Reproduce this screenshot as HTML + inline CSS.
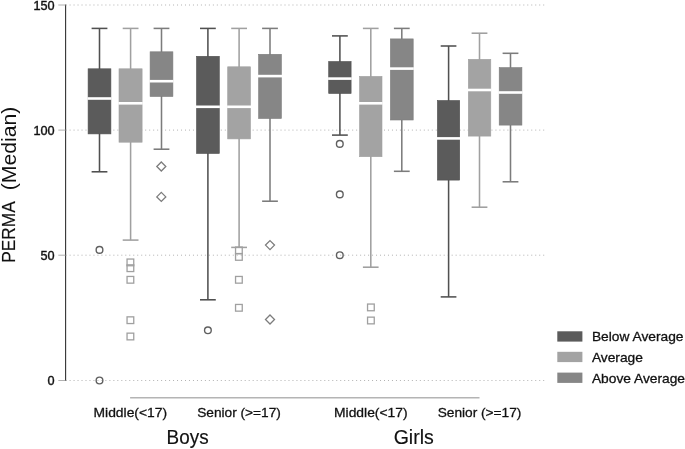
<!DOCTYPE html>
<html><head><meta charset="utf-8"><title>PERMA (Median) box plot</title>
<style>
html,body{margin:0;padding:0;background:#fff;}
body{width:685px;height:449px;overflow:hidden;}
svg{display:block;}
text{font-family:"Liberation Sans",Arial,Helvetica,sans-serif;fill:#111;stroke:#111;stroke-width:0.3px;}
</style></head><body>
<svg width="685" height="449" viewBox="0 0 685 449">
<rect width="685" height="449" fill="#fff"/>

<line x1="66" y1="5.0" x2="545.5" y2="5.0" stroke="#b2b2b2" stroke-width="1" stroke-dasharray="1 2.98" stroke-dashoffset="0.4"/>
<line x1="66" y1="130.1" x2="545.5" y2="130.1" stroke="#b2b2b2" stroke-width="1" stroke-dasharray="1 2.98" stroke-dashoffset="0.4"/>
<line x1="66" y1="255.2" x2="545.5" y2="255.2" stroke="#b2b2b2" stroke-width="1" stroke-dasharray="1 2.98" stroke-dashoffset="0.4"/>
<line x1="66" y1="380.5" x2="545.5" y2="380.5" stroke="#b2b2b2" stroke-width="1" stroke-dasharray="1 2.98" stroke-dashoffset="0.4"/>
<line x1="65.6" y1="4.5" x2="65.6" y2="381" stroke="#333" stroke-width="1.1"/>
<line x1="58.3" y1="5.0" x2="65.5" y2="5.0" stroke="#b0b0b0" stroke-width="1"/>
<line x1="58.3" y1="130.1" x2="65.5" y2="130.1" stroke="#b0b0b0" stroke-width="1"/>
<line x1="58.3" y1="255.2" x2="65.5" y2="255.2" stroke="#b0b0b0" stroke-width="1"/>
<line x1="58.3" y1="380.5" x2="65.5" y2="380.5" stroke="#b0b0b0" stroke-width="1"/>
<text x="54.6" y="9.85" font-size="12.7" text-anchor="end" style="stroke-width:0.4px">150</text>
<text x="54.6" y="134.95" font-size="12.7" text-anchor="end" style="stroke-width:0.4px">100</text>
<text x="54.6" y="260.05" font-size="12.7" text-anchor="end" style="stroke-width:0.4px">50</text>
<text x="54.6" y="385.35" font-size="12.7" text-anchor="end" style="stroke-width:0.4px">0</text>
<line x1="130.1" y1="397.85" x2="479.5" y2="397.85" stroke="#b4b4b4" stroke-width="1.5"/>
<line x1="99.5" y1="28.4" x2="99.5" y2="171.8" stroke="#505050" stroke-width="1.55"/>
<line x1="91.6" y1="28.4" x2="107.4" y2="28.4" stroke="#505050" stroke-width="1.55"/>
<line x1="91.6" y1="171.8" x2="107.4" y2="171.8" stroke="#505050" stroke-width="1.55"/>
<rect x="88.1" y="68.8" width="22.8" height="65.1" fill="#5b5b5b" stroke="#505050" stroke-width="0.6"/>
<line x1="87.5" y1="98.5" x2="111.5" y2="98.5" stroke="#fff" stroke-width="2.6"/>
<line x1="130.6" y1="28.4" x2="130.6" y2="240.1" stroke="#a0a0a0" stroke-width="1.55"/>
<line x1="122.7" y1="28.4" x2="138.5" y2="28.4" stroke="#a0a0a0" stroke-width="1.55"/>
<line x1="122.7" y1="240.1" x2="138.5" y2="240.1" stroke="#a0a0a0" stroke-width="1.55"/>
<rect x="119.0" y="68.8" width="23.1" height="73.4" fill="#a3a3a3" stroke="#a0a0a0" stroke-width="0.6"/>
<line x1="118.4" y1="103.3" x2="142.7" y2="103.3" stroke="#fff" stroke-width="2.6"/>
<line x1="161.5" y1="28.4" x2="161.5" y2="149.2" stroke="#7c7c7c" stroke-width="1.55"/>
<line x1="153.6" y1="28.4" x2="169.4" y2="28.4" stroke="#7c7c7c" stroke-width="1.55"/>
<line x1="153.6" y1="149.2" x2="169.4" y2="149.2" stroke="#7c7c7c" stroke-width="1.55"/>
<rect x="150.1" y="51.8" width="22.8" height="44.7" fill="#868686" stroke="#7c7c7c" stroke-width="0.6"/>
<line x1="149.5" y1="81.2" x2="173.5" y2="81.2" stroke="#fff" stroke-width="2.6"/>
<line x1="207.9" y1="28.4" x2="207.9" y2="299.8" stroke="#505050" stroke-width="1.55"/>
<line x1="200.0" y1="28.4" x2="215.8" y2="28.4" stroke="#505050" stroke-width="1.55"/>
<line x1="200.0" y1="299.8" x2="215.8" y2="299.8" stroke="#505050" stroke-width="1.55"/>
<rect x="196.5" y="56.3" width="22.8" height="97.2" fill="#5b5b5b" stroke="#505050" stroke-width="0.6"/>
<line x1="195.9" y1="106.8" x2="219.9" y2="106.8" stroke="#fff" stroke-width="2.6"/>
<line x1="239.1" y1="28.4" x2="239.1" y2="247.4" stroke="#a0a0a0" stroke-width="1.55"/>
<line x1="231.2" y1="28.4" x2="247.0" y2="28.4" stroke="#a0a0a0" stroke-width="1.55"/>
<line x1="231.2" y1="247.4" x2="247.0" y2="247.4" stroke="#a0a0a0" stroke-width="1.55"/>
<rect x="227.7" y="66.8" width="22.8" height="72.1" fill="#a3a3a3" stroke="#a0a0a0" stroke-width="0.6"/>
<line x1="227.1" y1="106.8" x2="251.1" y2="106.8" stroke="#fff" stroke-width="2.6"/>
<line x1="270.0" y1="28.4" x2="270.0" y2="201.2" stroke="#7c7c7c" stroke-width="1.55"/>
<line x1="262.1" y1="28.4" x2="277.9" y2="28.4" stroke="#7c7c7c" stroke-width="1.55"/>
<line x1="262.1" y1="201.2" x2="277.9" y2="201.2" stroke="#7c7c7c" stroke-width="1.55"/>
<rect x="258.6" y="54.3" width="22.8" height="64.2" fill="#868686" stroke="#7c7c7c" stroke-width="0.6"/>
<line x1="258.0" y1="76.1" x2="282.0" y2="76.1" stroke="#fff" stroke-width="2.6"/>
<line x1="339.9" y1="35.9" x2="339.9" y2="135.1" stroke="#505050" stroke-width="1.55"/>
<line x1="332.0" y1="35.9" x2="347.8" y2="35.9" stroke="#505050" stroke-width="1.55"/>
<line x1="332.0" y1="135.1" x2="347.8" y2="135.1" stroke="#505050" stroke-width="1.55"/>
<rect x="328.7" y="61.5" width="22.4" height="32.0" fill="#5b5b5b" stroke="#505050" stroke-width="0.6"/>
<line x1="328.1" y1="78.6" x2="351.7" y2="78.6" stroke="#fff" stroke-width="2.6"/>
<line x1="370.8" y1="28.4" x2="370.8" y2="267.2" stroke="#a0a0a0" stroke-width="1.55"/>
<line x1="362.9" y1="28.4" x2="378.6" y2="28.4" stroke="#a0a0a0" stroke-width="1.55"/>
<line x1="362.9" y1="267.2" x2="378.6" y2="267.2" stroke="#a0a0a0" stroke-width="1.55"/>
<rect x="359.5" y="76.4" width="22.5" height="80.3" fill="#a3a3a3" stroke="#a0a0a0" stroke-width="0.6"/>
<line x1="358.9" y1="103.3" x2="382.6" y2="103.3" stroke="#fff" stroke-width="2.6"/>
<line x1="401.8" y1="28.4" x2="401.8" y2="171.3" stroke="#7c7c7c" stroke-width="1.55"/>
<line x1="393.9" y1="28.4" x2="409.7" y2="28.4" stroke="#7c7c7c" stroke-width="1.55"/>
<line x1="393.9" y1="171.3" x2="409.7" y2="171.3" stroke="#7c7c7c" stroke-width="1.55"/>
<rect x="390.4" y="38.9" width="22.8" height="81.1" fill="#868686" stroke="#7c7c7c" stroke-width="0.6"/>
<line x1="389.8" y1="68.6" x2="413.8" y2="68.6" stroke="#fff" stroke-width="2.6"/>
<line x1="448.6" y1="46.0" x2="448.6" y2="296.9" stroke="#505050" stroke-width="1.55"/>
<line x1="440.7" y1="46.0" x2="456.4" y2="46.0" stroke="#505050" stroke-width="1.55"/>
<line x1="440.7" y1="296.9" x2="456.4" y2="296.9" stroke="#505050" stroke-width="1.55"/>
<rect x="437.4" y="100.5" width="22.3" height="79.6" fill="#5b5b5b" stroke="#505050" stroke-width="0.6"/>
<line x1="436.8" y1="138.4" x2="460.3" y2="138.4" stroke="#fff" stroke-width="2.6"/>
<line x1="479.5" y1="33.2" x2="479.5" y2="207.2" stroke="#a0a0a0" stroke-width="1.55"/>
<line x1="471.6" y1="33.2" x2="487.4" y2="33.2" stroke="#a0a0a0" stroke-width="1.55"/>
<line x1="471.6" y1="207.2" x2="487.4" y2="207.2" stroke="#a0a0a0" stroke-width="1.55"/>
<rect x="468.3" y="59.3" width="22.5" height="76.8" fill="#a3a3a3" stroke="#a0a0a0" stroke-width="0.6"/>
<line x1="467.7" y1="90.0" x2="491.4" y2="90.0" stroke="#fff" stroke-width="2.6"/>
<line x1="510.5" y1="53.3" x2="510.5" y2="181.8" stroke="#7c7c7c" stroke-width="1.55"/>
<line x1="502.6" y1="53.3" x2="518.4" y2="53.3" stroke="#7c7c7c" stroke-width="1.55"/>
<line x1="502.6" y1="181.8" x2="518.4" y2="181.8" stroke="#7c7c7c" stroke-width="1.55"/>
<rect x="499.2" y="67.6" width="22.7" height="57.5" fill="#868686" stroke="#7c7c7c" stroke-width="0.6"/>
<line x1="498.6" y1="92.5" x2="522.5" y2="92.5" stroke="#fff" stroke-width="2.6"/>
<circle cx="99.5" cy="249.9" r="3.35" fill="none" stroke="#606060" stroke-width="1.4"/>
<circle cx="99.5" cy="380.5" r="3.35" fill="none" stroke="#606060" stroke-width="1.4"/>
<circle cx="207.9" cy="330.3" r="3.35" fill="none" stroke="#606060" stroke-width="1.4"/>
<circle cx="339.8" cy="143.9" r="3.35" fill="none" stroke="#606060" stroke-width="1.4"/>
<circle cx="339.8" cy="194.4" r="3.35" fill="none" stroke="#606060" stroke-width="1.4"/>
<circle cx="339.8" cy="255.2" r="3.35" fill="none" stroke="#606060" stroke-width="1.4"/>
<rect x="127.05" y="259.05" width="6.7" height="6.7" fill="none" stroke="#a0a0a0" stroke-width="1.3"/>
<rect x="127.05" y="264.85" width="6.7" height="6.7" fill="none" stroke="#a0a0a0" stroke-width="1.3"/>
<rect x="127.05" y="276.45" width="6.7" height="6.7" fill="none" stroke="#a0a0a0" stroke-width="1.3"/>
<rect x="127.05" y="316.85" width="6.7" height="6.7" fill="none" stroke="#a0a0a0" stroke-width="1.3"/>
<rect x="127.05" y="333.15" width="6.7" height="6.7" fill="none" stroke="#a0a0a0" stroke-width="1.3"/>
<rect x="235.55" y="247.05" width="6.7" height="6.7" fill="none" stroke="#a0a0a0" stroke-width="1.3"/>
<rect x="235.55" y="253.55" width="6.7" height="6.7" fill="none" stroke="#a0a0a0" stroke-width="1.3"/>
<rect x="235.55" y="276.45" width="6.7" height="6.7" fill="none" stroke="#a0a0a0" stroke-width="1.3"/>
<rect x="235.55" y="304.45" width="6.7" height="6.7" fill="none" stroke="#a0a0a0" stroke-width="1.3"/>
<rect x="367.55" y="304.05" width="6.7" height="6.7" fill="none" stroke="#a0a0a0" stroke-width="1.3"/>
<rect x="367.55" y="317.15" width="6.7" height="6.7" fill="none" stroke="#a0a0a0" stroke-width="1.3"/>
<path d="M161.3 162.0L165.8 166.5L161.3 171.0L156.8 166.5Z" fill="none" stroke="#7c7c7c" stroke-width="1.3"/>
<path d="M161.3 192.4L165.8 196.9L161.3 201.4L156.8 196.9Z" fill="none" stroke="#7c7c7c" stroke-width="1.3"/>
<path d="M270.0 240.6L274.5 245.1L270.0 249.6L265.5 245.1Z" fill="none" stroke="#7c7c7c" stroke-width="1.3"/>
<path d="M270.0 315.0L274.5 319.5L270.0 324.0L265.5 319.5Z" fill="none" stroke="#7c7c7c" stroke-width="1.3"/>
<text x="93.5" y="417.3" font-size="13.7" textLength="73.6" lengthAdjust="spacingAndGlyphs">Middle(&lt;17)</text>
<text x="197.2" y="417.3" font-size="13.7" textLength="83.7" lengthAdjust="spacingAndGlyphs">Senior (&gt;=17)</text>
<text x="334.0" y="417.3" font-size="13.7" textLength="73.6" lengthAdjust="spacingAndGlyphs">Middle(&lt;17)</text>
<text x="437.7" y="417.3" font-size="13.7" textLength="83.7" lengthAdjust="spacingAndGlyphs">Senior (&gt;=17)</text>
<text x="166.6" y="443.8" font-size="19.3" textLength="42" lengthAdjust="spacingAndGlyphs" style="stroke-width:0.15px">Boys</text>
<text x="393.7" y="443.8" font-size="19.5" style="stroke-width:0.15px">Girls</text>
<text transform="translate(14.8 262.8) rotate(-90)" font-size="17.6" textLength="61.6" lengthAdjust="spacingAndGlyphs" style="stroke-width:0.15px">PERMA</text>
<text transform="translate(16.0 190.3) rotate(-90)" font-size="19.8" textLength="83.7" lengthAdjust="spacingAndGlyphs" style="stroke-width:0px">(Median)</text>
<rect x="557.3" y="331.3" width="25.1" height="10.3" fill="#5b5b5b"/>
<text transform="translate(591.9 341.4) scale(1.028 1)" font-size="13.4">Below Average</text>
<rect x="557.3" y="351.8" width="25.1" height="10.3" fill="#a3a3a3"/>
<text transform="translate(591.9 361.9) scale(1.028 1)" font-size="13.4">Average</text>
<rect x="557.3" y="372.6" width="25.1" height="10.3" fill="#868686"/>
<text transform="translate(591.9 382.7) scale(1.028 1)" font-size="13.4">Above Average</text>
</svg></body></html>
